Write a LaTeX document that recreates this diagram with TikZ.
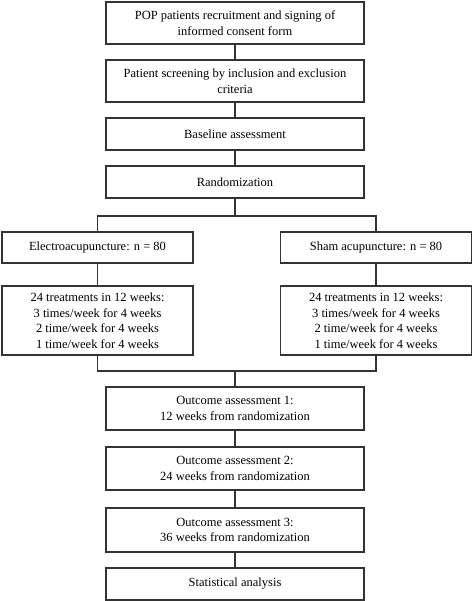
\documentclass[tikz,border=0pt]{standalone}
\usepackage{fontspec}
\setmainfont{Liberation Serif}
\begin{document}
\begin{tikzpicture}[
    x=1pt, y=-1pt,
    every node/.style={font=\fontsize{12.5}{15.5}\selectfont},
    stage/.style={rectangle, draw=black!80, line width=1.1pt, align=center, minimum width=258pt, inner sep=0pt},
    armbox/.style={rectangle, draw=black!80, line width=1.1pt, align=center, minimum width=191pt, inner sep=0pt},
    link/.style={draw=black!80, line width=1.1pt}
]
    \useasboundingbox (0,0) rectangle (474,601);

    \node[stage, minimum height=42pt] (recruit) at (235,23) {POP patients recruitment and signing of\\informed consent form};
    \node[stage, minimum height=42pt] (screen) at (235,81) {Patient screening by inclusion and exclusion\\criteria};
    \node[stage, minimum height=32pt] (baseline) at (235,134) {Baseline assessment};
    \node[stage, minimum height=32pt] (random) at (235,182) {Randomization};

    \node[armbox, minimum height=31pt] (electro) at (97.5,247.5) {Electroacupuncture: n = 80};
    \node[armbox, minimum height=31pt] (sham) at (376,247.5) {Sham acupuncture: n = 80};

    \node[armbox, minimum height=69pt] (treatL) at (97.5,320.5) {24 treatments in 12 weeks:\\3 times/week for 4 weeks\\2 time/week for 4 weeks\\1 time/week for 4 weeks};
    \node[armbox, minimum height=69pt] (treatR) at (376,320.5) {24 treatments in 12 weeks:\\3 times/week for 4 weeks\\2 time/week for 4 weeks\\1 time/week for 4 weeks};

    \node[stage, minimum height=43pt] (out1) at (235,408.5) {Outcome assessment 1:\\12 weeks from randomization};
    \node[stage, minimum height=43pt] (out2) at (235,468.5) {Outcome assessment 2:\\24 weeks from randomization};
    \node[stage, minimum height=44pt] (out3) at (235,530) {Outcome assessment 3:\\36 weeks from randomization};
    \node[stage, minimum height=32pt] (stats) at (235,584) {Statistical analysis};

    \coordinate (split) at (235,216);
    \coordinate (merge) at (235,371);

    \draw[link] (recruit) -- (screen);
    \draw[link] (screen) -- (baseline);
    \draw[link] (baseline) -- (random);
    \draw[link] (random) -- (split);
    \draw[link] (electro) |- (split) -| (sham);
    \draw[link] (electro) -- (treatL);
    \draw[link] (sham) -- (treatR);
    \draw[link] (treatL) |- (merge) -| (treatR);
    \draw[link] (merge) -- (out1);
    \draw[link] (out1) -- (out2);
    \draw[link] (out2) -- (out3);
    \draw[link] (out3) -- (stats);
\end{tikzpicture}
\end{document}
